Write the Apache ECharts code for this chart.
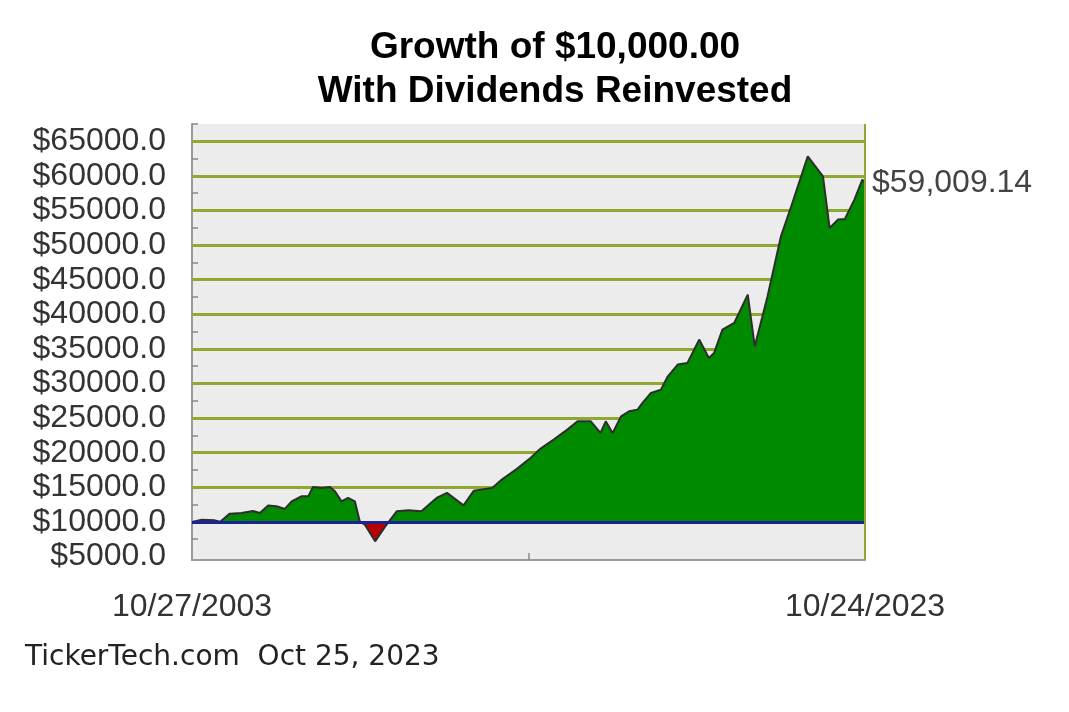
<!DOCTYPE html>
<html>
<head>
<meta charset="utf-8">
<script src="https://cdn.jsdelivr.net/npm/echarts@6/dist/echarts.min.js"></script>
<style>
html,body{margin:0;padding:0;background:#fff;}
#chart{width:1069px;height:712px;}
</style>
</head>
<body>
<div id="chart"></div>
<script>
// ---- data ----
const dates = [
  '2003-10-27','2004-02-10','2004-07-01','2004-08-28','2004-12-10','2005-04-15','2005-08-20','2005-11-01',
  '2006-01-30','2006-05-01','2006-07-30','2006-10-12','2007-01-25','2007-04-10','2007-06-01','2007-09-01',
  '2007-12-01','2008-01-25','2008-04-05','2008-06-15','2008-08-28','2008-10-20','2008-12-15','2009-04-05',
  '2009-07-20','2009-11-25','2010-04-01','2010-08-20','2011-02-01','2011-05-25','2011-11-20','2012-03-10',
  '2012-09-25','2012-12-28','2013-06-25','2013-11-15','2014-03-05','2014-07-25','2014-12-20','2015-04-10',
  '2015-09-01','2015-12-15','2016-02-10','2016-04-25','2016-07-25','2016-10-20','2017-01-20','2017-03-15',
  '2017-06-15','2017-10-01','2017-12-15','2018-04-01','2018-07-15','2018-11-20','2019-03-05','2019-05-01',
  '2019-07-30','2019-12-05','2020-04-30','2020-07-15','2020-12-01','2021-04-25','2021-08-15','2022-02-10',
  '2022-07-25','2022-10-05','2023-01-05','2023-03-20','2023-07-01','2023-09-25','2023-10-24'
];
const values = [
  10000,10330,10230,10020,11200,11300,11590,11300,
  12360,12260,11880,12980,13700,13700,15060,14920,
  15060,14430,12980,13470,12980,10090,9610,7200,
  9280,11530,11680,11530,13470,14200,12400,14500,
  14920,16000,17700,19250,20600,21900,23340,24540,
  24540,22860,24540,22860,25260,25990,26230,27190,
  28640,29120,31040,32740,32980,36350,33700,34420,
  37790,38750,42850,35380,42600,51270,55610,62830,
  59940,52480,53690,53790,56580,59470,59009.14
];
const baseline = 10000;
const yLabelValues = [5000,10000,15000,20000,25000,30000,35000,40000,45000,50000,55000,60000,65000];
const yTickValues = [7500,12500,17500,22500,27500,32500,37500,42500,47500,52500,57500,62500,67500];
const gridValues = [15000,20000,25000,30000,35000,40000,45000,50000,55000,60000,65000];
const xLabelDates = ['2003-10-27','2023-10-24'];
const xTickDates = ['2013-10-25'];
const titleText = 'Growth of $10,000.00\nWith Dividends Reinvested';
const footerText = 'TickerTech.com  Oct 25, 2023';

// ---- build ----
function toTime(s) {
  const p = s.split('-').map(Number);
  return Date.UTC(p[0], p[1] - 1, p[2]);
}
function fmtDate(t) {
  const d = new Date(t);
  const mm = String(d.getUTCMonth() + 1).padStart(2, '0');
  const dd = String(d.getUTCDate()).padStart(2, '0');
  return mm + '/' + dd + '/' + d.getUTCFullYear();
}
function money(v) {
  const parts = v.toFixed(2).split('.');
  parts[0] = parts[0].replace(/\B(?=(\d{3})+(?!\d))/g, ',');
  return '$' + parts.join('.');
}
const seriesData = dates.map((d, i) => [toTime(d), values[i]]);

// area fill: green above the baseline, red below (gradient relative to the area's bounding box)
const vMax = Math.max(...values, baseline);
const vMin = Math.min(...values, baseline);
const split = (vMax - baseline) / (vMax - vMin);
const GREEN = '#008a00', RED = '#b80000';
const areaFill = {
  type: 'linear', x: 0, y: 0, x2: 0, y2: 1,
  colorStops: [
    {offset: 0, color: GREEN}, {offset: split, color: GREEN},
    {offset: split, color: RED}, {offset: 1, color: RED}
  ]
};

const chart = echarts.init(document.getElementById('chart'), null, {renderer: 'canvas'});
const FONT = 'Liberation Sans, Arial, Helvetica, sans-serif';

chart.setOption({
  animation: false,
  backgroundColor: '#ffffff',
  title: {
    text: titleText,
    left: 550,
    textAlign: 'center',
    top: 21,
    textStyle: {fontFamily: FONT, fontSize: 37, fontWeight: 'bold', color: '#000', lineHeight: 44}
  },
  graphic: [{
    type: 'text',
    left: 25,
    top: 644,
    style: {text: footerText, fontFamily: 'DejaVu Sans, sans-serif', fontSize: 28, fill: '#222'}
  }],
  grid: {
    left: 192, right: 204, top: 124, bottom: 152,
    show: true, backgroundColor: '#ececec', borderWidth: 0
  },
  xAxis: {
    type: 'value',
    min: toTime(dates[0]),
    max: toTime(dates[dates.length - 1]),
    axisLine: {show: true, onZero: false, lineStyle: {color: '#9a9a9a', width: 2}},
    axisTick: {show: true, inside: true, length: 7, customValues: xTickDates.map(toTime), lineStyle: {color: '#888', width: 1.5}},
    axisLabel: {
      show: true,
      customValues: xLabelDates.map(toTime),
      showMinLabel: true, showMaxLabel: true, hideOverlap: false,
      fontFamily: FONT, fontSize: 32, color: '#333', margin: 31,
      formatter: v => fmtDate(v)
    },
    splitLine: {show: false}
  },
  yAxis: {
    type: 'value',
    min: 4500,
    max: 67500,
    axisLine: {show: true, onZero: false, lineStyle: {color: '#9a9a9a', width: 2}},
    axisTick: {show: true, inside: true, length: 6, customValues: yTickValues, lineStyle: {color: '#888', width: 1.5}},
    axisLabel: {
      show: true,
      customValues: yLabelValues,
      fontFamily: FONT, fontSize: 32, color: '#333', margin: 26,
      padding: [0, 0, 8, 0],
      formatter: v => '$' + v + '.0'
    },
    splitLine: {show: false}
  },
  series: [
    {
      type: 'line',
      data: seriesData,
      showSymbol: false,
      symbol: 'none',
      lineStyle: {width: 0, color: GREEN},
      itemStyle: {color: GREEN},
      areaStyle: {origin: baseline, opacity: 1, color: areaFill},
      z: 2,
      markLine: {
        silent: true,
        symbol: 'none',
        z: 1,
        label: {show: false},
        lineStyle: {color: '#8fa832', width: 3, type: 'solid'},
        data: gridValues.map(v => ({yAxis: v}))
      }
    },
    {
      type: 'line',
      data: seriesData,
      showSymbol: false,
      symbol: 'none',
      lineStyle: {color: '#2e2e2e', width: 2},
      itemStyle: {color: '#2e2e2e'},
      z: 3,
      endLabel: {
        show: true,
        distance: 7,
        fontFamily: FONT, fontSize: 32, color: '#444',
        formatter: p => money(p.value[1])
      },
      markLine: {
        silent: true,
        symbol: 'none',
        z: 5,
        label: {show: false},
        data: [
          {yAxis: baseline, lineStyle: {color: '#1a2296', width: 3, type: 'solid'}},
          {xAxis: toTime(dates[dates.length - 1]), lineStyle: {color: '#8fa832', width: 2, type: 'solid'}}
        ]
      }
    }
  ]
});
</script>
</body>
</html>
